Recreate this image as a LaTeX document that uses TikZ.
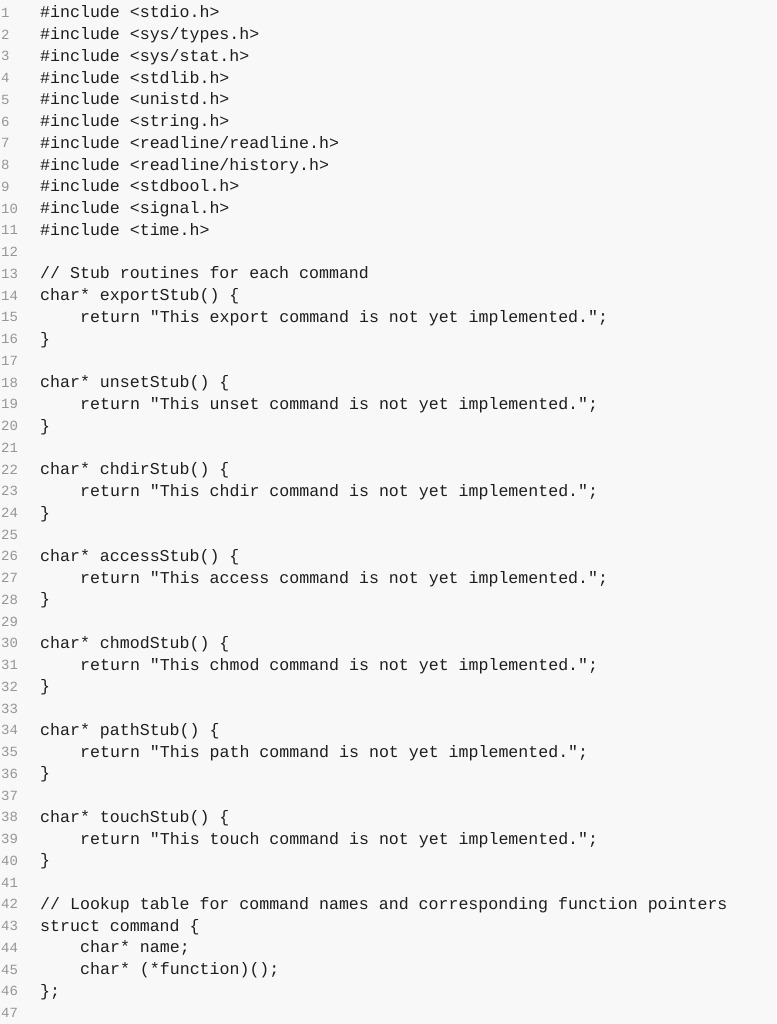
\documentclass[tikz,border=0pt]{standalone}
\usepackage{fontspec}
\setmonofont{Liberation Mono}
\definecolor{bg}{RGB}{248,248,248}
\definecolor{num}{RGB}{150,150,150}
\definecolor{code}{RGB}{30,30,30}
\begin{document}
\begin{tikzpicture}[x=1pt,y=-1pt,
  cl/.style={anchor=west,inner sep=0pt,font=\ttfamily\fontsize{16.6}{18}\selectfont,text=code,text height=11pt,text depth=3pt},
  ln/.style={anchor=west,inner sep=0pt,font=\ttfamily\fontsize{14}{16}\selectfont,text=num,text height=10pt,text depth=3pt}]
\useasboundingbox (0,0) rectangle (776,1024);
\fill[bg] (0,0) rectangle (776,1024);
\foreach \i in {1,...,47}{\node[ln] (n\i) at (1,{14+21.739*(\i-1)}) {\i};}
\newcommand\Ly[1]{{14+21.739*(#1-1)}}
\node[cl] (c1) at (40,\Ly{1}) {\#include <stdio.h>};
\node[cl] (c2) at (40,\Ly{2}) {\#include <sys/types.h>};
\node[cl] (c3) at (40,\Ly{3}) {\#include <sys/stat.h>};
\node[cl] (c4) at (40,\Ly{4}) {\#include <stdlib.h>};
\node[cl] (c5) at (40,\Ly{5}) {\#include <unistd.h>};
\node[cl] (c6) at (40,\Ly{6}) {\#include <string.h>};
\node[cl] (c7) at (40,\Ly{7}) {\#include <readline/readline.h>};
\node[cl] (c8) at (40,\Ly{8}) {\#include <readline/history.h>};
\node[cl] (c9) at (40,\Ly{9}) {\#include <stdbool.h>};
\node[cl] (c10) at (40,\Ly{10}) {\#include <signal.h>};
\node[cl] (c11) at (40,\Ly{11}) {\#include <time.h>};
\node[cl] (c13) at (40,\Ly{13}) {// Stub routines for each command};
\node[cl] (c14) at (40,\Ly{14}) {char* exportStub() \{};
\node[cl] (c15) at (80,\Ly{15}) {return "This export command is not yet implemented.";};
\node[cl] (c16) at (40,\Ly{16}) {\}};
\node[cl] (c18) at (40,\Ly{18}) {char* unsetStub() \{};
\node[cl] (c19) at (80,\Ly{19}) {return "This unset command is not yet implemented.";};
\node[cl] (c20) at (40,\Ly{20}) {\}};
\node[cl] (c22) at (40,\Ly{22}) {char* chdirStub() \{};
\node[cl] (c23) at (80,\Ly{23}) {return "This chdir command is not yet implemented.";};
\node[cl] (c24) at (40,\Ly{24}) {\}};
\node[cl] (c26) at (40,\Ly{26}) {char* accessStub() \{};
\node[cl] (c27) at (80,\Ly{27}) {return "This access command is not yet implemented.";};
\node[cl] (c28) at (40,\Ly{28}) {\}};
\node[cl] (c30) at (40,\Ly{30}) {char* chmodStub() \{};
\node[cl] (c31) at (80,\Ly{31}) {return "This chmod command is not yet implemented.";};
\node[cl] (c32) at (40,\Ly{32}) {\}};
\node[cl] (c34) at (40,\Ly{34}) {char* pathStub() \{};
\node[cl] (c35) at (80,\Ly{35}) {return "This path command is not yet implemented.";};
\node[cl] (c36) at (40,\Ly{36}) {\}};
\node[cl] (c38) at (40,\Ly{38}) {char* touchStub() \{};
\node[cl] (c39) at (80,\Ly{39}) {return "This touch command is not yet implemented.";};
\node[cl] (c40) at (40,\Ly{40}) {\}};
\node[cl] (c42) at (40,\Ly{42}) {// Lookup table for command names and corresponding function pointers};
\node[cl] (c43) at (40,\Ly{43}) {struct command \{};
\node[cl] (c44) at (80,\Ly{44}) {char* name;};
\node[cl] (c45) at (80,\Ly{45}) {char* (*function)();};
\node[cl] (c46) at (40,\Ly{46}) {\};};
\end{tikzpicture}
\end{document}
